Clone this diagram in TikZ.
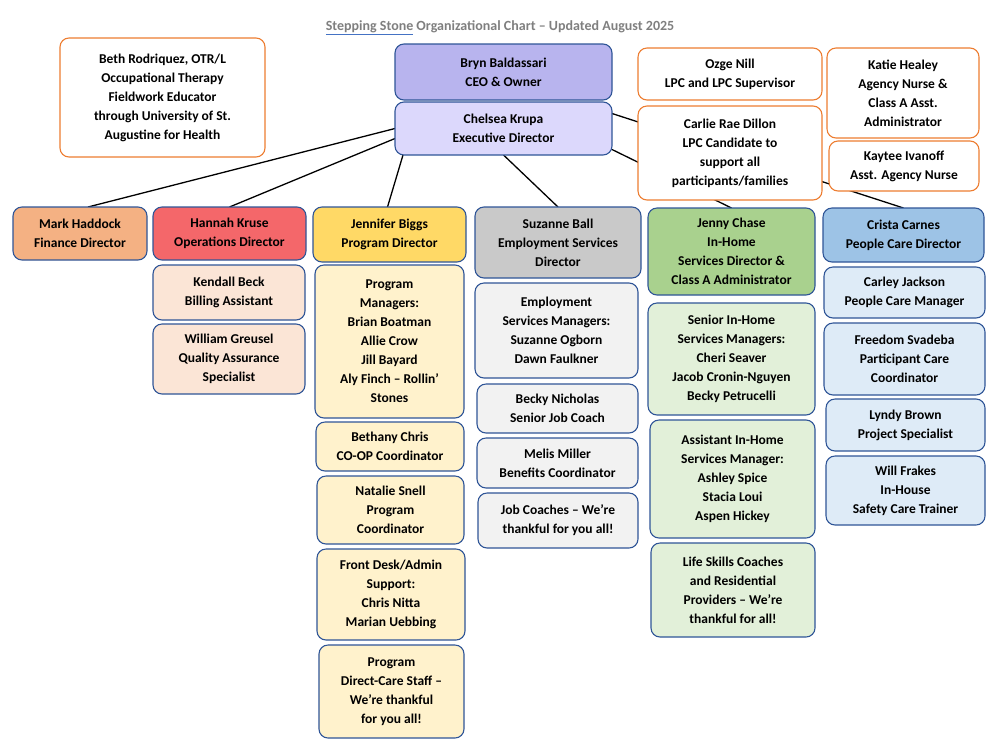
\documentclass[tikz,border=0pt]{standalone}
\usepackage{fontspec}
\setmainfont{Carlito}
\usepackage{tikz}
\usetikzlibrary{backgrounds}
\definecolor{edgeblue}{HTML}{2F5597}
\definecolor{edgeorange}{HTML}{ED7D31}
\definecolor{titlegray}{HTML}{7F7F7F}
\definecolor{ulblue}{HTML}{4472C4}
\definecolor{ceofill}{HTML}{B8B4EE}
\definecolor{execfill}{HTML}{DCD8FC}
\definecolor{finfill}{HTML}{F4B183}
\definecolor{opsfill}{HTML}{F4676A}
\definecolor{opslight}{HTML}{FBE5D6}
\definecolor{progfill}{HTML}{FFD966}
\definecolor{proglight}{HTML}{FFF2CC}
\definecolor{empfill}{HTML}{C9C9C9}
\definecolor{emplight}{HTML}{F2F2F2}
\definecolor{homefill}{HTML}{A9D18E}
\definecolor{homelight}{HTML}{E2F0D9}
\definecolor{carefill}{HTML}{9DC3E6}
\definecolor{carelight}{HTML}{DEEBF7}
\begin{document}
\begin{tikzpicture}[x=1pt, y=-1pt]
	  \tikzstyle{org} = [draw=edgeblue, line width=1.1pt, rounded corners=9pt, align=center,
	    inner sep=2pt, outer sep=0pt, font=\fontsize{13.5}{19}\selectfont\bfseries]
	  \tikzstyle{side} = [org, draw=edgeorange, fill=white]
	  \useasboundingbox (0,0) rectangle (1000,745);
	  \node[font=\fontsize{14}{16}\selectfont\bfseries, text=titlegray] (title) at (500,28)
	    {{\color{ulblue}\underline{\textcolor{titlegray}{Stepping Stone}}} Organizational Chart -- Updated August 2025};
	  % top row
	  \node[side, minimum width=205, minimum height=119] (beth) at (162.5,97.5)
	    {Beth Rodriquez, OTR/L\\Occupational Therapy\\Fieldwork Educator\\through University of St.\\Augustine for Health};
	  \node[org, fill=ceofill, minimum width=217, minimum height=56] (bryn) at (503.5,72) {Bryn Baldassari\\CEO \& Owner};
	  \node[org, fill=execfill, minimum width=217, minimum height=53] (chelsea) at (503.5,128.5) {Chelsea Krupa\\Executive Director};
	  \node[side, minimum width=184, minimum height=52] (ozge) at (730,74) {Ozge Nill\\LPC and LPC Supervisor};
	  \node[side, minimum width=152, minimum height=90] (katie) at (903,93) {Katie Healey\\Agency Nurse \&\\Class A Asst.\\Administrator};
	  \node[side, minimum width=184, minimum height=94] (carlie) at (730,153) {Carlie Rae Dillon\\LPC Candidate to\\support all\\participants/families};
	  \node[side, minimum width=150, minimum height=50] (kaytee) at (904,166) {Kaytee Ivanoff\\Asst. Agency Nurse};
	  % directors
	  \node[org, fill=finfill, minimum width=134, minimum height=53] (mark) at (80,233.5) {Mark Haddock\\Finance Director};
	  \node[org, fill=opsfill, minimum width=153, minimum height=53] (hannah) at (229.5,233.5) {Hannah Kruse\\Operations Director};
	  \node[org, fill=progfill, minimum width=153, minimum height=55] (jennifer) at (389.5,234.5) {Jennifer Biggs\\Program Director};
	  \node[org, fill=empfill, minimum width=166, minimum height=71] (suzanne) at (558,242.5) {Suzanne Ball\\Employment Services\\Director};
	  \node[org, fill=homefill, minimum width=167, minimum height=87] (jenny) at (731.5,251.5) {Jenny Chase\\In-Home\\Services Director \&\\Class A Administrator};
	  \node[org, fill=carefill, minimum width=161, minimum height=54] (crista) at (903.5,235) {Crista Carnes\\People Care Director};
	  % operations
	  \node[org, fill=opslight, minimum width=152, minimum height=55] (kendall) at (229,292.5) {Kendall Beck\\Billing Assistant};
	  \node[org, fill=opslight, minimum width=152, minimum height=70] (william) at (229,359) {William Greusel\\Quality Assurance\\Specialist};
	  % program
	  \node[org, fill=proglight, minimum width=149, minimum height=153] (managers) at (389.5,341.5) {Program\\Managers:\\Brian Boatman\\Allie Crow\\Jill Bayard\\Aly Finch -- Rollin'\\Stones};
	  \node[org, fill=proglight, minimum width=148, minimum height=49] (bethany) at (390,446.5) {Bethany Chris\\CO-OP Coordinator};
	  \node[org, fill=proglight, minimum width=147, minimum height=68] (natalie) at (390.5,510) {Natalie Snell\\Program\\Coordinator};
	  \node[org, fill=proglight, minimum width=148, minimum height=91] (frontdesk) at (391,594.5) {Front Desk/Admin\\Support:\\Chris Nitta\\Marian Uebbing};
	  \node[org, fill=proglight, minimum width=145, minimum height=93] (directcare) at (391.5,691.5) {Program\\Direct-Care Staff --\\We're thankful\\for you all!};
	  % employment
	  \node[org, fill=emplight, minimum width=163, minimum height=95] (empmanagers) at (556.5,330.5) {Employment\\Services Managers:\\Suzanne Ogborn\\Dawn Faulkner};
	  \node[org, fill=emplight, minimum width=161, minimum height=49] (becky) at (557.5,408.5) {Becky Nicholas\\Senior Job Coach};
	  \node[org, fill=emplight, minimum width=161, minimum height=50] (melis) at (557.5,463) {Melis Miller\\Benefits Coordinator};
	  \node[org, fill=emplight, minimum width=160, minimum height=55] (jobcoaches) at (558,520.5) {Job Coaches -- We're\\thankful for you all!};
	  % in-home
	  \node[org, fill=homelight, minimum width=167, minimum height=112] (senior) at (731.5,359) {Senior In-Home\\Services Managers:\\Cheri Seaver\\Jacob Cronin-Nguyen\\Becky Petrucelli};
	  \node[org, fill=homelight, minimum width=165, minimum height=118] (assistant) at (732.5,479) {Assistant In-Home\\Services Manager:\\Ashley Spice\\Stacia Loui\\Aspen Hickey};
	  \node[org, fill=homelight, minimum width=164, minimum height=94] (lifeskills) at (733,590) {Life Skills Coaches\\and Residential\\Providers -- We're\\thankful for all!};
	  % people care
	  \node[org, fill=carelight, minimum width=161, minimum height=51] (carley) at (904.5,292.5) {Carley Jackson\\People Care Manager};
	  \node[org, fill=carelight, minimum width=161, minimum height=72] (freedom) at (904.5,359) {Freedom Svadeba\\Participant Care\\Coordinator};
	  \node[org, fill=carelight, minimum width=159, minimum height=52] (lyndy) at (905.5,425) {Lyndy Brown\\Project Specialist};
	  \node[org, fill=carelight, minimum width=159, minimum height=69] (will) at (905.5,490.5) {Will Frakes\\In-House\\Safety Care Trainer};
	  \begin{scope}[on background layer]
	  \draw[line width=1.3pt] (chelsea.west) -- ([xshift=8pt]mark.north);
	  \draw[line width=1.3pt] ([yshift=-10pt]chelsea.west) -- (hannah.north);
	  \draw[line width=1.3pt] ([xshift=8pt]chelsea.south west) -- ([xshift=-2pt]jennifer.north);
	  \draw[line width=1.3pt] (chelsea.south) -- (suzanne.north);
	  \draw[line width=1.3pt] ([yshift=15pt]chelsea.east) -- (crista.north);
	  \draw[line width=1.3pt] ([yshift=-21pt]chelsea.east) -- (jenny.north);
	  \end{scope}
\end{tikzpicture}
\end{document}
